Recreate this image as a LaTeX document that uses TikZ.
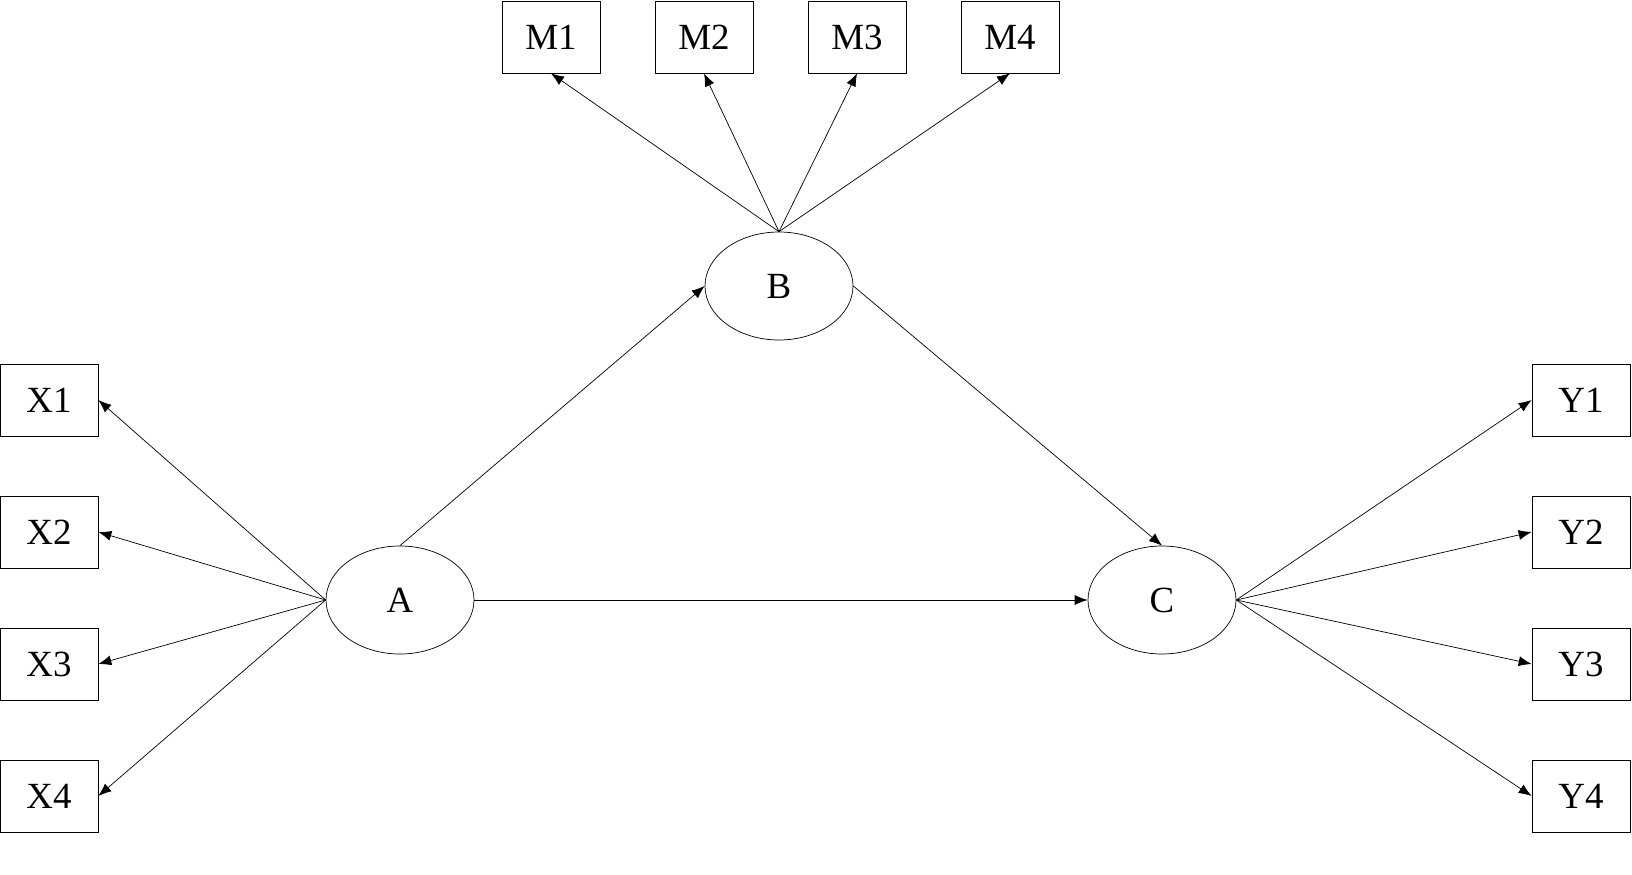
\documentclass[tikz,border=0pt]{standalone}
\usepackage{fontspec}
\setmainfont{Liberation Serif}
\usetikzlibrary{shapes.geometric,arrows.meta}

\tikzset{
  obs/.style={draw, thin, rectangle, minimum width=1.96cm, minimum height=1.44cm, font=\fontsize{21}{25}\selectfont},
  lat/.style={draw, thin, ellipse, minimum width=2.96cm, minimum height=2.16cm, inner sep=0pt, font=\fontsize{21}{25}\selectfont},
  path/.style={-{Latex[length=2.6mm,width=2mm]}, thin}
}

\begin{document}
\begin{tikzpicture}
\useasboundingbox (0,0) rectangle (32.64,17.48);

% Variaveis latentes
\node[lat] (A) at (8,5.48) {A};
\node[lat] (B) at (15.58,11.76) {B};
\node[lat] (C) at (23.24,5.48) {C};

% Indicadores
\foreach \i/\y in {1/9.48, 2/6.84, 3/4.2, 4/1.56} {
  \node[obs] (X\i) at (0.98,\y) {X\i};
  \node[obs] (Y\i) at (31.62,\y) {Y\i};
  \draw[path] (A.west) -- (X\i.east);
  \draw[path] (C.east) -- (Y\i.west);
}
\foreach \i/\x in {1/11.02, 2/14.08, 3/17.14, 4/20.2} {
  \node[obs] (M\i) at (\x,16.74) {M\i};
  \draw[path] (B.north) -- (M\i.south);
}

% Caminhos estruturais
\draw[path] (A.north) -- (B.west);
\draw[path] (B.east) -- (C.north);
\draw[path] (A.east) -- (C.west);

\end{tikzpicture}
\end{document}
